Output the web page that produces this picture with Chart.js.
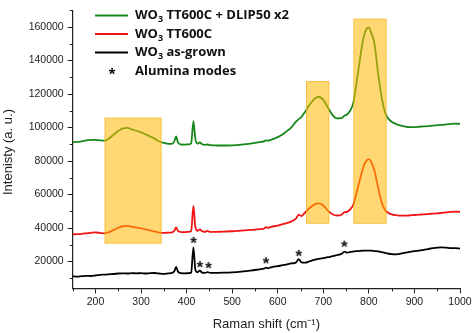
<!DOCTYPE html>
<html>
<head>
<meta charset="utf-8">
<title>Raman spectra</title>
<script src="https://cdn.jsdelivr.net/npm/chart.js@4.4.1/dist/chart.umd.min.js"></script>
<style>
  html, body { margin: 0; padding: 0; background: #fff; }
  canvas { display: block; }
</style>
</head>
<body>
<canvas id="raman" width="474" height="333"></canvas>
<script>
// Raman shift (cm-1) sampled along each spectrum
const shift = [150,160,170,180,190,200,210,220,230,240,250,260,270,280,290,300,310,320,330,340,
  350,360,368,373,377,381,388,395,405,410,415,419,424,429,434,440,446,452,460,480,
  500,520,540,560,570,574,578,585,600,615,630,640,646,652,660,670,680,690,700,710,
  720,730,740,747,752,760,766,772,780,788,795,800,805,812,820,828,835,842,850,860,
  870,880,890,900,910,920,930,940,950,960,970,980,990,1000];

// intensity of the laser treated film (already multiplied by 2)
const dlip = [91200,91400,91800,92300,92600,92700,92400,92200,93600,95800,97900,99500,99800,98900,98100,97100,95900,94700,93400,91700,
  90900,90300,90300,91800,94700,91200,89900,89800,90000,90600,103900,93500,90400,91200,90000,89700,89900,89500,89400,89300,
  89400,89800,90400,91300,91800,92400,92200,92700,94300,96800,100100,103500,105000,106400,109400,113600,117000,118400,116500,112000,
  107600,105500,105600,107200,107800,110600,114900,125000,140000,153500,159000,159800,156500,150500,133000,118000,109500,105500,103500,102100,
  101200,100600,100300,100300,100500,100700,100900,101200,101400,101600,101900,102200,102400,102200];

// intensity after annealing at 600 C
const annealed = [36300,36400,36600,36900,37200,37400,37100,36800,37600,38900,40200,41100,41300,40800,40300,39800,39200,38600,38000,37300,
  37100,37300,37500,38400,40400,38300,37600,37600,37800,38300,53200,40800,38400,39200,38100,37800,38300,37700,37700,37900,
  38100,38500,38900,39400,39700,40500,40200,40700,41500,42600,44000,45600,48000,47200,49300,52000,54000,54700,53500,50400,
  48300,47500,48000,49500,49700,51500,54100,60000,68600,76500,80400,81200,79500,74500,64500,55500,51000,49200,48200,47700,
  47400,47400,47600,47800,48000,48200,48400,48600,48800,49100,49400,49700,49800,49700];

// intensity of the as-grown film
const asGrown = [11200,11000,11300,11500,11400,11700,12100,12200,12400,12600,12900,13000,12900,13100,13000,13100,12900,13100,13200,12900,
  12700,13000,13200,14200,16900,14000,13100,13000,13100,13500,28400,15500,13600,14600,13400,13300,13700,13300,13300,13400,
  13600,14000,14600,15400,15800,16400,16000,16600,17300,18000,18900,19500,21400,19600,19400,20200,21000,21600,22100,22600,
  23200,23800,24600,25900,25300,25800,26000,26200,26400,26500,26600,26500,26500,26300,26100,25700,25200,24800,24400,24300,
  24700,25300,25800,26200,26600,27000,27500,28000,28400,28500,28300,28100,28000,27800];

// substrate (alumina) modes, marked with an asterisk
const aluminaShift = [415, 429, 448, 574, 646, 746];
const aluminaLevel = [33000, 18500, 17900, 20800, 25200, 30700];

// highlighted WO3 bands
const bandFrom = [220, 662, 766];
const bandTo = [345, 713, 839];
const bandLow = [30700, 42600, 42600];
const bandHigh = [105900, 127800, 165000];

const seriesLabels = ['WO3 TT600C + DLIP50 x2', 'WO3 TT600C', 'WO3 as-grown', 'Alumina modes'];
const seriesColors = ['#17871a', '#f01414', '#000000', '#111111'];
const yTitle = 'Intenisty (a. u.)';

const xTicks = [200, 300, 400, 500, 600, 700, 800, 900, 1000];
const xMinor = [150, 250, 350, 450, 550, 650, 750, 850, 950];
const yTicks = [20000, 40000, 60000, 80000, 100000, 120000, 140000, 160000];
const yMinor = [10000, 30000, 50000, 70000, 90000, 110000, 130000, 150000, 170000];

const axisColor = '#222';
const tickFont = { family: '"Liberation Sans", Arial, sans-serif', size: 10.5 };
const titleFont = { family: '"Liberation Sans", Arial, sans-serif', size: 13 };

function points(values) {
  return shift.map((x, i) => ({ x: x, y: values[i] }));
}

// small bitmap of a "*" glyph, centred, used as point style
function asteriskImage() {
  const c = document.createElement('canvas');
  c.width = 14;
  c.height = 14;
  const g = c.getContext('2d');
  g.font = 'bold 17px "Liberation Sans", Arial, sans-serif';
  g.textAlign = 'center';
  g.textBaseline = 'alphabetic';
  g.fillStyle = seriesColors[3];
  const m = g.measureText('*');
  const base = 7 + (m.actualBoundingBoxAscent - m.actualBoundingBoxDescent) / 2;
  g.fillText('*', 7, base);
  return c;
}
const asterisk = asteriskImage();

const bands = {
  id: 'bands',
  afterDatasetsDraw(chart) {
    const { ctx, scales: { x, y } } = chart;
    ctx.save();
    bandFrom.forEach((from, i) => {
      const left = x.getPixelForValue(from);
      const right = x.getPixelForValue(bandTo[i]);
      const top = y.getPixelForValue(bandHigh[i]);
      const bottom = y.getPixelForValue(bandLow[i]);
      ctx.fillStyle = 'rgba(255, 184, 0, 0.55)';
      ctx.fillRect(left, top, right - left, bottom - top);
      ctx.strokeStyle = 'rgba(240, 175, 20, 0.5)';
      ctx.lineWidth = 1;
      ctx.strokeRect(left + 0.5, top + 0.5, right - left - 1, bottom - top - 1);
    });
    ctx.restore();
  }
};

const minorTicks = {
  id: 'minorTicks',
  afterDraw(chart) {
    const { ctx, chartArea, scales: { x, y } } = chart;
    ctx.save();
    ctx.strokeStyle = axisColor;
    ctx.lineWidth = 1;
    ctx.beginPath();
    xMinor.forEach(v => {
      const px = Math.round(x.getPixelForValue(v)) + 0.5;
      ctx.moveTo(px, chartArea.bottom);
      ctx.lineTo(px, chartArea.bottom + 3);
    });
    yMinor.forEach(v => {
      const py = Math.round(y.getPixelForValue(v)) + 0.5;
      ctx.moveTo(chartArea.left, py);
      ctx.lineTo(chartArea.left - 3, py);
    });
    ctx.stroke();
    ctx.restore();
  }
};

// y title sits a little below the middle of the axis
const sideTitle = {
  id: 'sideTitle',
  afterDraw(chart) {
    const ctx = chart.ctx;
    ctx.save();
    ctx.translate(8.5, 152);
    ctx.rotate(-Math.PI / 2);
    ctx.font = titleFont.size + 'px ' + titleFont.family;
    ctx.fillStyle = axisColor;
    ctx.textAlign = 'center';
    ctx.textBaseline = 'middle';
    ctx.fillText(yTitle, 0, 0);
    ctx.restore();
  }
};

// legend in the top left corner, with a subscript 3 in WO3
function drawLabel(ctx, text, x, y) {
  const font = 'bold 13px "Open Sans", sans-serif';
  ctx.font = font;
  if (text.startsWith('WO3')) {
    ctx.fillText('WO', x, y);
    x += ctx.measureText('WO').width;
    ctx.font = 'bold 9px "Open Sans", sans-serif';
    ctx.fillText('3', x, y + 4);
    x += ctx.measureText('3').width;
    ctx.font = font;
    text = text.slice(3);
  }
  ctx.fillText(text, x, y);
}

const cornerLegend = {
  id: 'cornerLegend',
  afterDraw(chart) {
    const ctx = chart.ctx;
    ctx.save();
    ctx.textBaseline = 'middle';
    ctx.fillStyle = '#111';
    chart.data.datasets.forEach((ds, i) => {
      const rowY = 15.5 + i * 18.5;
      if (ds.type === 'scatter') {
        ctx.drawImage(asterisk, 112 - 7, rowY - 7);
      } else {
        ctx.strokeStyle = ds.borderColor;
        ctx.lineWidth = 2;
        ctx.beginPath();
        ctx.moveTo(95, rowY);
        ctx.lineTo(128, rowY);
        ctx.stroke();
      }
      ctx.fillStyle = '#111';
      drawLabel(ctx, ds.label, 135, rowY);
    });
    ctx.restore();
  }
};

const spectrum = (values, i) => ({
  label: seriesLabels[i],
  data: points(values),
  borderColor: seriesColors[i],
  borderWidth: 1.8,
  pointRadius: 0,
  cubicInterpolationMode: 'monotone',
  fill: false
});

new Chart(document.getElementById('raman'), {
  type: 'line',
  data: {
    datasets: [
      spectrum(dlip, 0),
      spectrum(annealed, 1),
      spectrum(asGrown, 2),
      {
        type: 'scatter',
        label: seriesLabels[3],
        data: aluminaShift.map((x, i) => ({ x: x, y: aluminaLevel[i] })),
        pointStyle: asterisk,
        pointRadius: 7,
        showLine: false
      }
    ]
  },
  options: {
    responsive: false,
    animation: false,
    layout: { padding: { top: 1.5, right: 14, left: 0, bottom: 0 } },
    plugins: {
      legend: { display: false },
      tooltip: { enabled: false }
    },
    scales: {
      x: {
        type: 'linear',
        min: 150,
        max: 1000,
        afterBuildTicks: s => { s.ticks = xTicks.map(v => ({ value: v })); },
        afterFit: s => { s.height = 44.6; },
        ticks: { callback: v => String(v), color: axisColor, font: tickFont, padding: 2, maxRotation: 0 },
        grid: { drawOnChartArea: false, tickLength: 5, tickColor: axisColor, tickWidth: 1 },
        border: { color: axisColor, width: 1.2 },
        title: { display: true, text: 'Raman shift (cm\u207B\u00B9)', color: axisColor, font: titleFont, padding: { top: 0, bottom: 1.2 } }
      },
      y: {
        min: 4000,
        max: 170000,
        afterBuildTicks: s => { s.ticks = yTicks.map(v => ({ value: v })); },
        afterFit: s => { s.width = 72.7; },
        ticks: { callback: v => String(v), color: axisColor, font: tickFont, padding: 4 },
        grid: { drawOnChartArea: false, tickLength: 5, tickColor: axisColor, tickWidth: 1 },
        border: { color: axisColor, width: 1.2 },
        title: { display: false }
      }
    }
  },
  plugins: [bands, minorTicks, sideTitle, cornerLegend]
});
</script>
</body>
</html>
